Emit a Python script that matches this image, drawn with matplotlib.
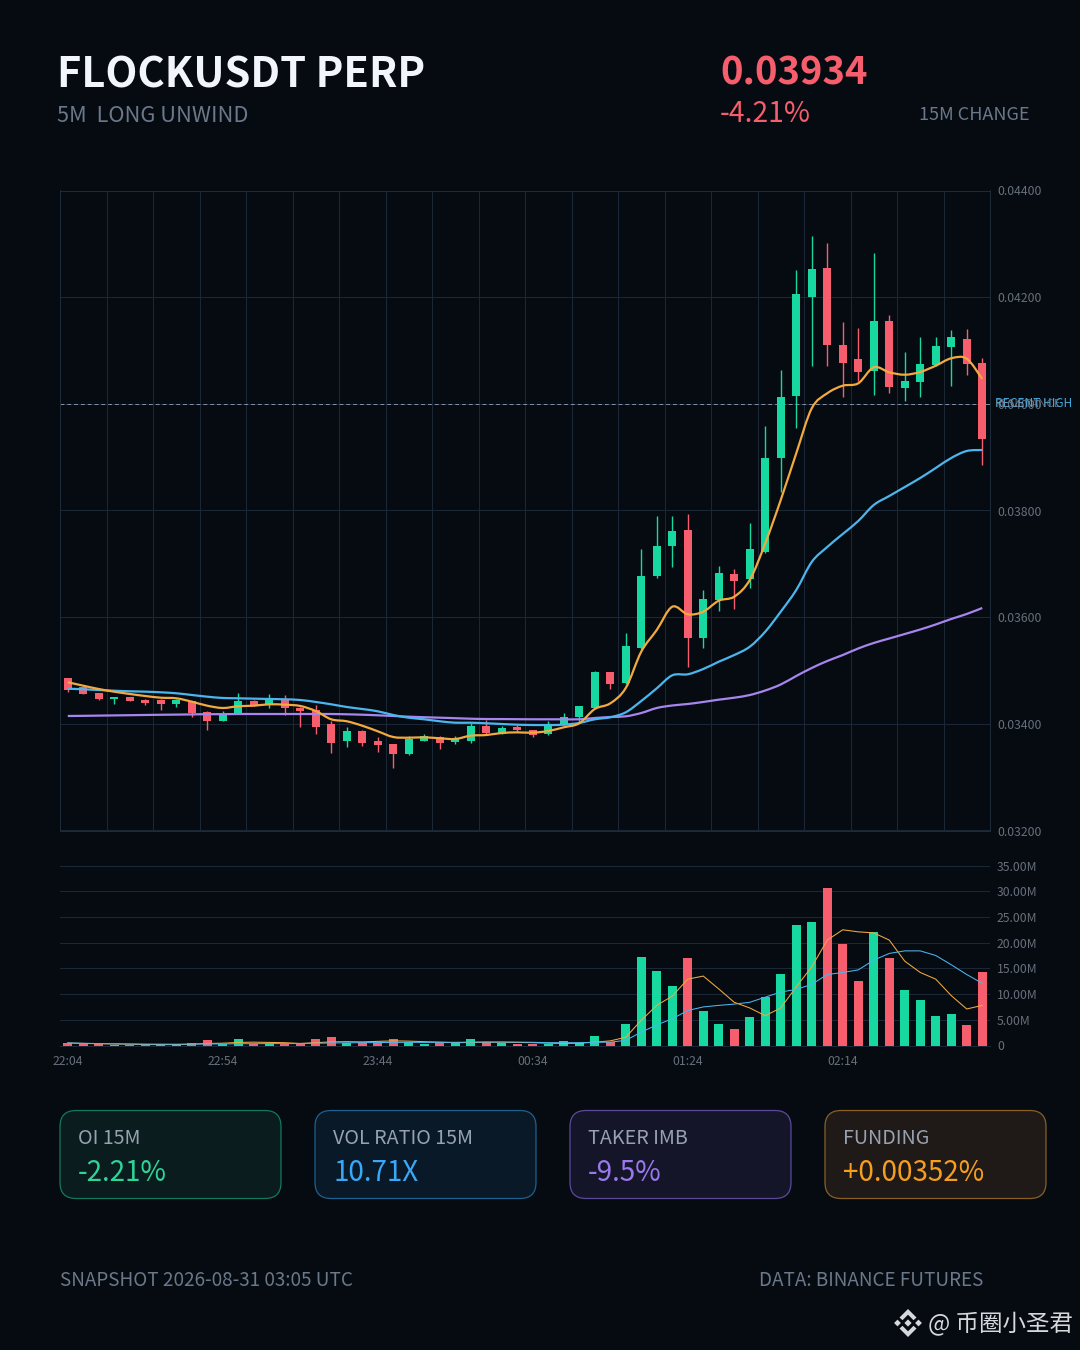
import matplotlib
matplotlib.use("Agg")
import matplotlib.pyplot as plt
from matplotlib.patches import FancyBboxPatch, PathPatch, Polygon
from matplotlib.path import Path
from matplotlib.ticker import FuncFormatter

plt.rcParams['font.family'] = ['Noto Sans CJK SC', 'DejaVu Sans']

W, H = 1080, 1350

# candle data, price in 1e-5 units
opens = [3486, 3469, 3458, 3447, 3450, 3445, 3445, 3437, 3442, 3423,
         3406, 3421, 3442, 3436, 3444, 3429, 3426, 3400, 3368, 3387,
         3367, 3362, 3343, 3368, 3376, 3366, 3368, 3396, 3381, 3394,
         3388, 3380, 3398, 3412, 3430, 3497, 3476, 3543, 3677, 3733,
         3763, 3561, 3632, 3680, 3672, 3723, 3899, 4014, 4201, 4254,
         4111, 4084, 4062, 4155, 4030, 4040, 4072, 4107, 4122, 4076]
highs = [3486, 3470, 3458, 3451, 3451, 3447, 3446, 3447, 3443, 3424,
         3424, 3458, 3445, 3455, 3454, 3432, 3435, 3405, 3394, 3388,
         3375, 3363, 3378, 3381, 3377, 3378, 3401, 3407, 3396, 3398,
         3389, 3405, 3421, 3434, 3499, 3498, 3570, 3728, 3790, 3790,
         3794, 3651, 3696, 3690, 3777, 3959, 4064, 4250, 4315, 4302,
         4154, 4142, 4282, 4167, 4097, 4126, 4126, 4139, 4140, 4085]
lows = [3460, 3455, 3445, 3437, 3442, 3435, 3425, 3432, 3413, 3389,
        3405, 3420, 3433, 3430, 3417, 3394, 3380, 3345, 3356, 3358,
        3347, 3317, 3342, 3367, 3353, 3362, 3364, 3381, 3380, 3385,
        3375, 3379, 3397, 3404, 3429, 3465, 3475, 3541, 3673, 3694,
        3507, 3543, 3612, 3615, 3655, 3720, 3835, 3955, 4070, 4070,
        4012, 4043, 4017, 4020, 4005, 4013, 4071, 4034, 4054, 3885]
closes = [3463, 3456, 3447, 3450, 3443, 3439, 3437, 3445, 3421, 3406,
          3418, 3442, 3435, 3445, 3429, 3424, 3395, 3364, 3387, 3365,
          3360, 3343, 3372, 3377, 3365, 3372, 3396, 3382, 3393, 3388,
          3379, 3398, 3413, 3434, 3497, 3475, 3545, 3677, 3734, 3762,
          3561, 3634, 3682, 3668, 3727, 3898, 4012, 4206, 4253, 4110,
          4077, 4060, 4155, 4032, 4043, 4075, 4108, 4125, 4075, 3934]

ema_fast = [3478, 3471.5, 3465.3, 3460.2, 3456, 3452.2, 3449, 3447.9, 3441.6, 3434,
            3429.7, 3433, 3434, 3436.6, 3435.9, 3433.5, 3424, 3408.5, 3404.8, 3396.5,
            3386, 3375.3, 3374, 3374.7, 3372.9, 3371.6, 3377.8, 3379, 3382.8, 3384,
            3383.4, 3386.6, 3393.5, 3401, 3427.8, 3438.4, 3467.2, 3535.3, 3576, 3619.6,
            3605.4, 3610.3, 3630.9, 3638.4, 3669.7, 3738.5, 3819.7, 3907.3, 3991.6, 4019.8,
            4034, 4038.5, 4068.5, 4059.1, 4054.6, 4059.7, 4071.5, 4085.4, 4084.6, 4046.6]
ema_mid = [3465.9, 3464.8, 3463.4, 3462.1, 3461, 3460.3, 3459.1, 3457.3, 3454.1, 3450.9,
           3448.5, 3447.9, 3447.2, 3446.6, 3446, 3444.7, 3441, 3436.6, 3431.6, 3427.8,
           3423.5, 3416.6, 3411.5, 3408.5, 3404.8, 3402.1, 3402.1, 3401, 3399.7, 3398.4,
           3397.8, 3397.8, 3398.4, 3401.6, 3408.5, 3412.3, 3421.6, 3442.8, 3466.6, 3491,
           3492.9, 3502.8, 3516.5, 3529, 3544.6, 3572.8, 3610.3, 3651, 3703.5, 3731.6,
           3756, 3780.3, 3810.3, 3827.2, 3844, 3861, 3879.7, 3898.5, 3911.6, 3913.4]
ema_slow = [3414.7, 3415, 3415.4, 3415.8, 3416.2, 3416.6, 3417, 3417.3, 3417.7, 3418.1,
            3418.1, 3418.4, 3418.4, 3418.4, 3418.4, 3418.4, 3418.4, 3418.4, 3417.9, 3417.1,
            3416, 3414.7, 3413.4, 3412.4, 3411.5, 3410.6, 3409.6, 3409, 3408.9, 3408.7,
            3408.5, 3408.5, 3408.5, 3408.5, 3410.9, 3412.8, 3414.1, 3420.3, 3429.7, 3434.4,
            3437.2, 3441, 3445.3, 3449, 3454, 3462.5, 3473.8, 3489.7, 3504.7, 3517.8,
            3529, 3541.3, 3551.6, 3560, 3568.4, 3576.9, 3586.3, 3596.6, 3606, 3617.2]

# volume in millions
volumes = [0.5, 0.35, 0.2, 0.15, 0.15, 0.15, 0.2, 0.2, 0.5, 1.0,
           0.35, 1.2, 0.3, 0.5, 0.3, 0.4, 1.2, 1.6, 0.5, 0.7,
           0.45, 1.25, 0.7, 0.2, 0.7, 0.45, 1.2, 0.65, 0.5, 0.35,
           0.2, 0.2, 0.9, 0.5, 1.9, 0.65, 4.1, 17.3, 14.5, 11.5,
           17.0, 6.8, 4.15, 3.25, 5.6, 9.4, 14.0, 23.4, 24.1, 30.6,
           19.8, 12.5, 22.0, 17.1, 10.8, 8.8, 5.65, 6.1, 4.0, 14.3]
vol_fast = [0.5, 0.4, 0.35, 0.3, 0.25, 0.2, 0.17, 0.18, 0.25, 0.4,
            0.45, 0.6, 0.65, 0.6, 0.55, 0.4, 0.55, 0.7, 0.75, 0.7,
            0.8, 0.9, 0.85, 0.75, 0.65, 0.55, 0.6, 0.65, 0.65, 0.6,
            0.55, 0.45, 0.4, 0.45, 0.65, 0.9, 1.6, 4.9, 7.8, 9.6,
            12.9, 13.5, 11.0, 8.4, 7.3, 5.8, 7.3, 11.4, 15.3, 20.5,
            22.5, 22.1, 21.9, 20.5, 16.4, 14.2, 12.9, 9.7, 7.1, 7.8]
vol_slow = [0.5, 0.43, 0.38, 0.33, 0.3, 0.27, 0.26, 0.25, 0.27, 0.3,
            0.3, 0.35, 0.36, 0.37, 0.37, 0.38, 0.43, 0.5, 0.52, 0.55,
            0.57, 0.6, 0.62, 0.6, 0.62, 0.62, 0.65, 0.67, 0.67, 0.65,
            0.62, 0.55, 0.55, 0.55, 0.62, 0.65, 1.0, 2.6, 4.0, 5.2,
            6.8, 7.5, 7.8, 8.05, 8.4, 9.4, 10.4, 10.9, 11.9, 13.8,
            14.2, 14.7, 16.6, 17.9, 18.4, 18.4, 17.5, 15.7, 13.8, 12.1]

time_labels = ["22:04", "22:54", "23:44", "00:34", "01:24", "02:14"]

card_labels = ["OI 15M", "VOL RATIO 15M", "TAKER IMB", "FUNDING"]
card_values = ["-2.21%", "10.71X", "-9.5%", "+0.00352%"]

BG = "#060b12"
GREEN = "#17d8a0"
RED = "#f65d6d"
GRID = "#1b2636"
TICK = "#666f7b"
GREY = "#6b788a"
YELLOW = "#f2aa3f"
BLUE = "#4bb6ee"
PURPLE = "#a685ee"
card_fill = ["#0b1c1e", "#0a1928", "#15152a", "#1f1a18"]
card_edge = ["#12795c", "#1d618f", "#5b4a99", "#8a5f24"]
card_text = ["#2fd497", "#38a8f8", "#9a78ee", "#f59e1f"]


def rect(x0, y0, x1, y1):
    return [x0 / W, 1 - y1 / H, (x1 - x0) / W, (y1 - y0) / H]


def smooth(ax, ys, color, scale=1.0, lw=1.6):
    # catmull-rom through the read values, drawn as bezier
    pts = [(i, v * scale) for i, v in enumerate(ys)]
    verts = [pts[0]]
    codes = [Path.MOVETO]
    for i in range(len(pts) - 1):
        p0 = pts[max(i - 1, 0)]
        p1 = pts[i]
        p2 = pts[i + 1]
        p3 = pts[min(i + 2, len(pts) - 1)]
        c1 = (p1[0] + (p2[0] - p0[0]) / 6, p1[1] + (p2[1] - p0[1]) / 6)
        c2 = (p2[0] - (p3[0] - p1[0]) / 6, p2[1] - (p3[1] - p1[1]) / 6)
        verts += [c1, c2, p2]
        codes += [Path.CURVE4, Path.CURVE4, Path.CURVE4]
    ax.add_patch(PathPatch(Path(verts, codes), fill=False, edgecolor=color, lw=lw, zorder=5))


fig = plt.figure(figsize=(W / 100, H / 100), dpi=100, facecolor=BG)

# -------- PRICE --------
ax = fig.add_axes(rect(60, 190.5, 990, 830.5), facecolor=BG)
xs = list(range(len(opens)))
for i in xs:
    col = GREEN if closes[i] >= opens[i] else RED
    ax.vlines(i, lows[i] * 1e-5, highs[i] * 1e-5, color=col, lw=1.0, zorder=3)
    ax.bar(i, abs(closes[i] - opens[i]) * 1e-5, bottom=min(opens[i], closes[i]) * 1e-5,
           width=0.52, color=col, zorder=4, linewidth=0)
smooth(ax, ema_slow, PURPLE, 1e-5)
smooth(ax, ema_mid, BLUE, 1e-5)
smooth(ax, ema_fast, YELLOW, 1e-5)
ax.axhline(0.04, color="#8492a3", lw=0.7, ls=(0, (4, 3)), zorder=2)
ax.set_xlim(-0.5, 59.5)
ax.set_ylim(0.032, 0.044)
ax.set_xticks([-0.5 + 3 * k for k in range(21)])
ax.set_yticks([0.032, 0.034, 0.036, 0.038, 0.040, 0.042, 0.044])
ax.grid(True, color=GRID, lw=0.75)
ax.set_axisbelow(True)
ax.yaxis.tick_right()
ax.yaxis.set_major_formatter(FuncFormatter(lambda v, p: "%.5f" % v))
ax.tick_params(axis="x", length=0, labelbottom=False)
ax.tick_params(axis="y", length=0, labelsize=8.8, labelcolor=TICK, pad=5)
for s in ax.spines.values():
    s.set_color("#1e2a3a")
    s.set_linewidth(0.75)
ax.text(1.0055, 0.04, "RECENT HIGH", transform=ax.get_yaxis_transform(), color=BLUE,
        fontsize=8.6, va="center", ha="left", alpha=0.9, clip_on=False)
ax.text(1.0055, 0.04, "RESISTANCE", transform=ax.get_yaxis_transform(), color="#7d8894",
        fontsize=8.2, va="center", ha="left", alpha=0.7, clip_on=False)

# -------- VOLUME --------
av = fig.add_axes(rect(60, 865.5, 990, 1045.5), facecolor=BG)
vcols = [GREEN if closes[i] >= opens[i] else RED for i in xs]
av.bar(xs, volumes, width=0.56, color=vcols, linewidth=0, zorder=3)
av.plot(xs, vol_fast, color=YELLOW, lw=0.75, zorder=4)
av.plot(xs, vol_slow, color=BLUE, lw=0.75, zorder=5)
av.set_xlim(-0.5, 59.5)
av.set_ylim(0, 35)
av.set_yticks(range(0, 36, 5))
av.yaxis.set_major_formatter(FuncFormatter(lambda v, p: "0" if v == 0 else "%.2fM" % v))
av.set_xticks(range(0, 60, 10))
av.set_xticklabels(time_labels)
av.yaxis.tick_right()
av.grid(True, axis="y", color=GRID, lw=0.75)
av.set_axisbelow(True)
av.tick_params(axis="both", length=0, labelsize=8.8, labelcolor=TICK)
av.tick_params(axis="y", pad=5)
av.tick_params(axis="x", pad=6.5)
for k, s in av.spines.items():
    s.set_visible(k == "bottom")
    s.set_color(GRID)
    s.set_linewidth(0.75)

# -------- HEADER, CARDS, FOOTER --------
top = fig.add_axes([0, 0, 1, 1], facecolor="none")
top.set_xlim(0, W)
top.set_ylim(H, 0)
top.axis("off")

top.text(57, 75, "FLOCKUSDT PERP", color="#f2f6fc", fontsize=30, fontweight="bold", va="center")
top.text(57, 116, "5M  LONG UNWIND", color=GREY, fontsize=15.7, va="center")
top.text(720, 73, "0.03934", color=RED, fontsize=27.5, fontweight="bold", va="center")
top.text(720, 114, "-4.21%", color=RED, fontsize=20.4, va="center")
top.text(1030, 115, "15M CHANGE", color=GREY, fontsize=13, va="center", ha="right")

card_left = [60, 315, 570, 825]
for i in range(4):
    x0 = card_left[i]
    top.add_patch(FancyBboxPatch((x0 + 16, 1110.5 + 16), 221 - 32, 88 - 32,
                                 boxstyle="round,pad=16,rounding_size=16",
                                 facecolor=card_fill[i], edgecolor=card_edge[i], lw=0.9))
    top.text(x0 + 18, 1138, card_labels[i], color="#97a1af", fontsize=14.2, va="center")
    top.text(x0 + 18, 1173, card_values[i], color=card_text[i], fontsize=20, va="center")

top.text(60, 1280, "SNAPSHOT 2026-08-31 03:05 UTC", color=GREY, fontsize=13.6, va="center")
top.text(983, 1280, "DATA: BINANCE FUTURES", color=GREY, fontsize=13.6, va="center", ha="right")

# binance mark
mark = "#d6d9dc"
cx, cy = 908, 1323
for dx, dy, r in [(0, 0, 3.6), (-10.5, 0, 3.4), (10.5, 0, 3.4)]:
    top.add_patch(Polygon([(cx + dx - r, cy + dy), (cx + dx, cy + dy - r),
                           (cx + dx + r, cy + dy), (cx + dx, cy + dy + r)], color=mark, lw=0))
top.add_patch(Polygon([(cx, cy - 14), (cx + 8.5, cy - 5.5), (cx + 5.5, cy - 2.8), (cx, cy - 8.3),
                       (cx - 5.5, cy - 2.8), (cx - 8.5, cy - 5.5)], color=mark, lw=0))
top.add_patch(Polygon([(cx, cy + 14), (cx + 8.5, cy + 5.5), (cx + 5.5, cy + 2.8), (cx, cy + 8.3),
                       (cx - 5.5, cy + 2.8), (cx - 8.5, cy + 5.5)], color=mark, lw=0))
top.text(928, 1324, "@ 币圈小圣君", color=mark, fontsize=16.9, va="center")

fig.savefig("out.png", dpi=100, facecolor=BG)
